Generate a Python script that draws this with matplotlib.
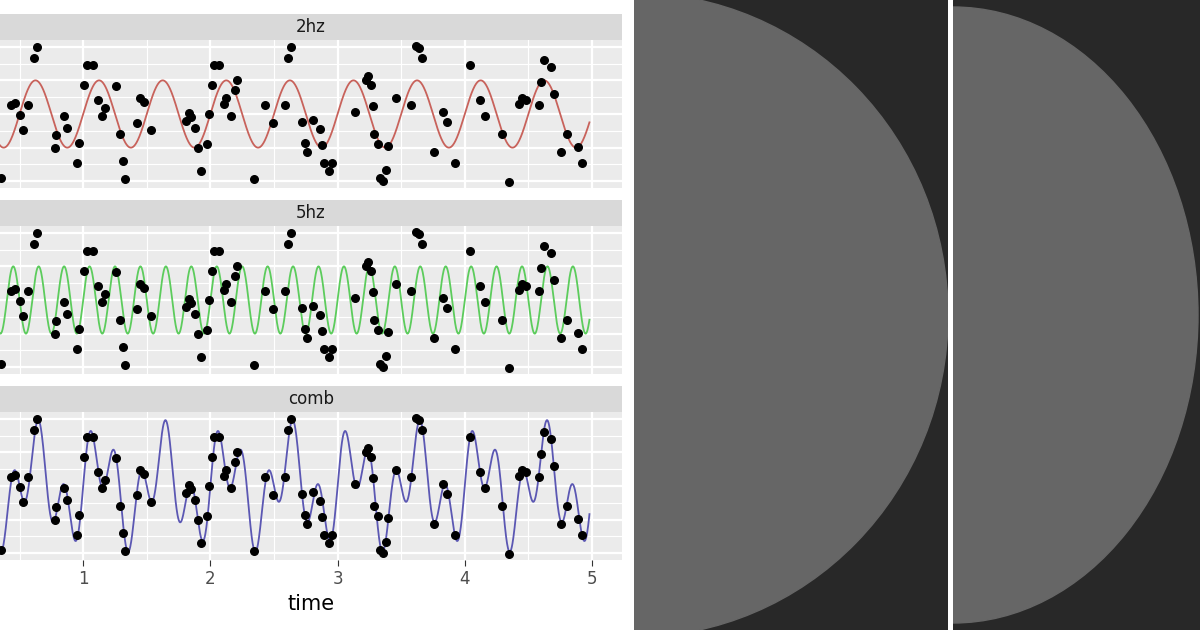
import matplotlib.pyplot as plt
import numpy as np
from matplotlib.patches import Ellipse

point_t = [0.35, 0.43, 0.46, 0.50, 0.53, 0.57, 0.61, 0.64, 0.78, 0.79, 0.85, 0.87, 0.95, 0.97,
           1.01, 1.03, 1.08, 1.12, 1.15, 1.17, 1.26, 1.29, 1.31, 1.33, 1.42, 1.45, 1.48, 1.53,
           1.81, 1.83, 1.85, 1.88, 1.90, 1.93, 1.97, 1.99, 2.01, 2.03, 2.07, 2.11, 2.12, 2.16,
           2.19, 2.21, 2.34, 2.43, 2.49, 2.59, 2.61, 2.63, 2.72, 2.74, 2.76, 2.81, 2.86, 2.88,
           2.89, 2.93, 2.96, 3.14, 3.22, 3.24, 3.26, 3.28, 3.29, 3.32, 3.33, 3.36, 3.38, 3.40,
           3.46, 3.58, 3.62, 3.64, 3.66, 3.76, 3.83, 3.86, 3.92, 4.04, 4.12, 4.16, 4.29, 4.35,
           4.43, 4.45, 4.48, 4.58, 4.60, 4.62, 4.68, 4.70, 4.76, 4.80, 4.89, 4.92]
point_y = [-1.90, 0.27, 0.33, -0.03, -0.48, 0.27, 1.67, 2.00, -1.01, -0.62, -0.06, -0.42, -1.46, -0.86,
           0.86, 1.46, 1.46, 0.42, -0.06, 0.18, 0.83, -0.60, -1.40, -1.93, -0.27, 0.48, 0.36, -0.48,
           -0.21, 0.03, -0.09, -0.42, -1.01, -1.70, -0.89, 0.00, 0.86, 1.46, 1.46, 0.30, 0.48, -0.06,
           0.71, 1.01, -1.93, 0.27, -0.27, 0.27, 1.67, 2.00, -0.24, -0.86, -1.13, -0.18, -0.45, -0.92,
           -1.46, -1.70, -1.46, 0.06, 1.01, 1.13, 0.86, 0.24, -0.60, -0.89, -1.90, -1.99, -1.67, -0.95,
           0.48, 0.27, 2.03, 1.97, 1.67, -1.13, 0.06, -0.24, -1.46, 1.46, 0.42, -0.06, -0.60, -2.02,
           0.30, 0.48, 0.42, 0.27, 0.95, 1.61, 1.40, 0.59, -1.13, -0.60, -0.98, -1.46]

facets = ['2hz', '5hz', 'comb']
freqs = {'2hz': [2], '5hz': [5], 'comb': [2, 5]}
colors = {'2hz': '#c8625b', '5hz': '#5ccc5c', 'comb': '#5b57b3'}
t_start, t_end = 0.0, 4.98


def signal(t, fs):
    return sum(np.sin(2 * np.pi * f * np.asarray(t)) for f in fs)


W, H = 1200, 630
fig = plt.figure(figsize=(12, 6.3), dpi=100)
fig.patch.set_facecolor('white')

panel_tops = [40, 226, 412]
panel_h = 148
strip_h = 26
xl = (0.346, 5.236)
tt = np.linspace(t_start, t_end, 2000)

for name, top in zip(facets, panel_tops):
    ax = fig.add_axes([0, 1 - (top + panel_h) / H, 622 / W, panel_h / H])
    ax.set_facecolor('#ebebeb')
    ax.set_xlim(*xl)
    ax.set_ylim(-2.2, 2.2)
    for v in np.arange(0.5, 5.5, 0.5):
        ax.axvline(v, color='white', lw=1.6 if v % 1 == 0 else 0.8, zorder=0)
    for v in np.arange(-2, 2.5, 0.5):
        ax.axhline(v, color='white', lw=1.6 if v % 1 == 0 else 0.8, zorder=0)
    ax.plot(tt, signal(tt, freqs[name]), color=colors[name], lw=1.3, zorder=2)
    ax.scatter(point_t, point_y, s=30, color='black', zorder=3)
    for s in ax.spines.values():
        s.set_visible(False)
    ax.set_yticks([])
    ax.set_xticks([1, 2, 3, 4, 5])
    if name == 'comb':
        ax.tick_params(axis='x', length=4, color='#333333', labelsize=12, labelcolor='#4d4d4d')
        ax.set_xlabel('time', fontsize=15, labelpad=4)
    else:
        ax.tick_params(axis='x', length=0, labelbottom=False)
    # facet strip
    sax = fig.add_axes([0, 1 - top / H, 622 / W, strip_h / H])
    sax.set_facecolor('#d9d9d9')
    sax.set_xticks([]); sax.set_yticks([])
    for s in sax.spines.values():
        s.set_visible(False)
    sax.text(0.5, 0.5, name, transform=sax.transAxes, ha='center', va='center',
             fontsize=12, color='#1a1a1a')

# right-hand dark panels with grey half discs
for x0, x1, cx, cy, rx, ry in [(634, 948, 634, 315, 314, 322), (953, 1200, 953, 315, 245, 308)]:
    dax = fig.add_axes([x0 / W, 0, (x1 - x0) / W, 1])
    dax.set_xlim(x0, x1)
    dax.set_ylim(H, 0)
    dax.add_patch(plt.Rectangle((x0, 0), x1 - x0, H, color='#282828', zorder=0))
    dax.add_patch(Ellipse((cx, cy), 2 * rx, 2 * ry, color='#666666', zorder=1))
    dax.axis('off')

fig.savefig('out.png', dpi=100)
